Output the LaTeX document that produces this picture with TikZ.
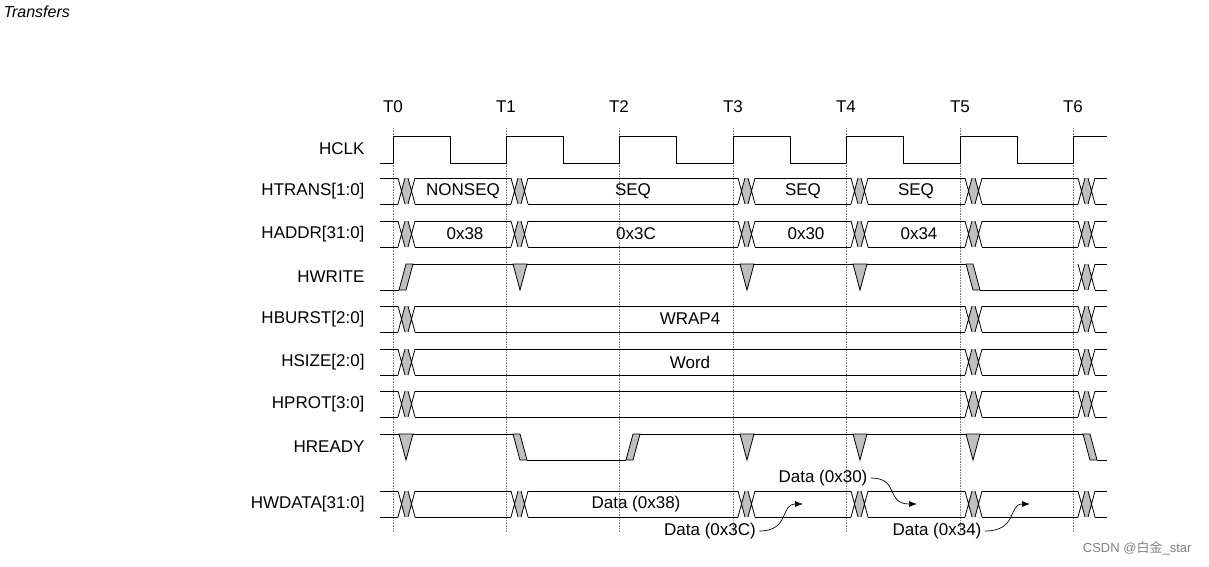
\documentclass[tikz,border=0pt]{standalone}
\usepackage{fontspec}
\setmainfont{Liberation Sans}
\newfontfamily\cjk{Noto Sans CJK SC}
\usetikzlibrary{arrows.meta}
\tikzset{
  sig/.style={line width=0.8pt},
  sname/.style={anchor=east,font=\fontsize{17}{20}\selectfont},
  val/.style={font=\fontsize{17}{20}\selectfont},
  tick/.style={font=\fontsize{17}{20}\selectfont},
  grid/.style={densely dotted,gray,line width=0.6pt},
  note/.style={-{Latex[length=8pt,width=6pt]},line width=0.7pt}
}
% bus transition at x, centred at y
\newcommand{\busx}[2]{%
  \fill[gray!50] (#1+3.5,#2) -- (#1+7,#2-13) -- (#1+10,#2-13) -- (#1+13.5,#2) -- (#1+10,#2+13) -- (#1+7,#2+13) -- cycle;
  \draw[sig] (#1,#2-13) -- (#1+7,#2+13) (#1,#2+13) -- (#1+7,#2-13)
    (#1+10,#2-13) -- (#1+17,#2+13) (#1+10,#2+13) -- (#1+17,#2-13);}
\newcommand{\busseg}[3]{\draw[sig] (#1,#3-13) -- (#2,#3-13) (#1,#3+13) -- (#2,#3+13);}
% don't care triangle
\newcommand{\dtri}[2]{\filldraw[sig,fill=gray!50] (#1,#2-13) -- (#1+14,#2-13) -- (#1+7,#2+13) -- cycle;}
% slopes
\newcommand{\fall}[2]{\filldraw[sig,fill=gray!50] (#1,#2-13) -- (#1+7,#2-13) -- (#1+14,#2+13) -- (#1+7,#2+13) -- cycle;}
\newcommand{\rise}[2]{\filldraw[sig,fill=gray!50] (#1,#2+13) -- (#1+7,#2+13) -- (#1+14,#2-13) -- (#1+7,#2-13) -- cycle;}
\begin{document}
\begin{tikzpicture}[x=1pt,y=-1pt]
  \useasboundingbox (0,0) rectangle (1209,566);
  \node[anchor=north west,font=\itshape\fontsize{16}{19}\selectfont] (title) at (0,2) {Transfers};

  % time marks
  \foreach \i/\x in {0/393,1/506,2/619,3/733,4/846,5/960,6/1073} {
    \node[tick] (t\i) at (\x,107) {T\i};
    \draw[grid] (\x,128) -- (\x,532);
  }

  % signal names
  \node[sname] (hclk) at (368,149) {HCLK};
  \node[sname] (htrans) at (368,191) {HTRANS[1:0]};
  \node[sname] (haddr) at (368,234) {HADDR[31:0]};
  \node[sname] (hwrite) at (368,277) {HWRITE};
  \node[sname] (hburst) at (368,319) {HBURST[2:0]};
  \node[sname] (hsize) at (368,362) {HSIZE[2:0]};
  \node[sname] (hprot) at (368,404) {HPROT[3:0]};
  \node[sname] (hready) at (368,447) {HREADY};
  \node[sname] (hwdata) at (368,504) {HWDATA[31:0]};

  % clock
  \draw[sig] (380,163) -- (393,163) -- (393,136) -- (450,136) -- (450,163) -- (506,163) -- (506,136) -- (563,136) -- (563,163) -- (619,163) -- (619,136) -- (676,136) -- (676,163) -- (733,163) -- (733,136) -- (790,136) -- (790,163) -- (846,163) -- (846,136) -- (903,136) -- (903,163) -- (960,163) -- (960,136) -- (1017,136) -- (1017,163) -- (1073,163) -- (1073,136) -- (1107,136);

  % HTRANS, HADDR, HWDATA
  \foreach \y in {191,234,504} {
    \foreach \t in {398,511,738,851,965,1078} {\busx{\t}{\y}}
    \foreach \a/\b in {380/398,415/511,528/738,755/851,868/965,982/1078,1095/1107} {\busseg{\a}{\b}{\y}}
  }
  \node[val] (nonseq) at (463,191) {NONSEQ};
  \node[val] (seq1) at (633,191) {SEQ};
  \node[val] (seq2) at (803,191) {SEQ};
  \node[val] (seq3) at (916,191) {SEQ};
  \node[val] (a38) at (465,234) {0x38};
  \node[val] (a3c) at (636,234) {0x3C};
  \node[val] (a30) at (806,234) {0x30};
  \node[val] (a34) at (919,234) {0x34};
  \node[val] (d38) at (636,504) {Data (0x38)};

  % HWRITE
  \draw[sig] (380,290) -- (399,290);
  \rise{399}{277}
  \draw[sig] (413,264) -- (966,264) (980,290) -- (1078,290);
  \foreach \t in {513,740,853} {\dtri{\t}{277}}
  \fall{966}{277}
  \busx{1078}{277}
  \busseg{1095}{1107}{277}

  % HBURST, HSIZE, HPROT
  \foreach \y in {319,362,404} {
    \foreach \t in {398,965,1078} {\busx{\t}{\y}}
    \foreach \a/\b in {380/398,415/965,982/1078,1095/1107} {\busseg{\a}{\b}{\y}}
  }
  \node[val] (wrap) at (690,319) {WRAP4};
  \node[val] (word) at (690,362) {Word};

  % HREADY
  \draw[sig] (380,434) -- (513,434) (527,460) -- (626,460) (640,434) -- (1083,434) (1097,460) -- (1107,460);
  \foreach \t in {399,740,853,966} {\dtri{\t}{447}}
  \fall{513}{447}
  \rise{626}{447}
  \fall{1083}{447}

  % data notes
  \node[val] (n3c) at (710,531) {Data (0x3C)};
  \node[val] (n30) at (823,478) {Data (0x30)};
  \node[val] (n34) at (937,531) {Data (0x34)};
  \coordinate (p3c) at (803,504);
  \coordinate (p30) at (917,504);
  \coordinate (p34) at (1030,504);
  \draw[note] (n3c.east) .. controls (790,531) and (780,504) .. (p3c);
  \draw[note] (n30.east) .. controls (900,478) and (885,504) .. (p30);
  \draw[note] (n34.east) .. controls (1018,531) and (1008,504) .. (p34);

  \node[anchor=east,text=gray,font=\fontsize{13}{15}\selectfont] (mark) at (1195,548) {CSDN @{\cjk 白金}\_star};
\end{tikzpicture}
\end{document}
